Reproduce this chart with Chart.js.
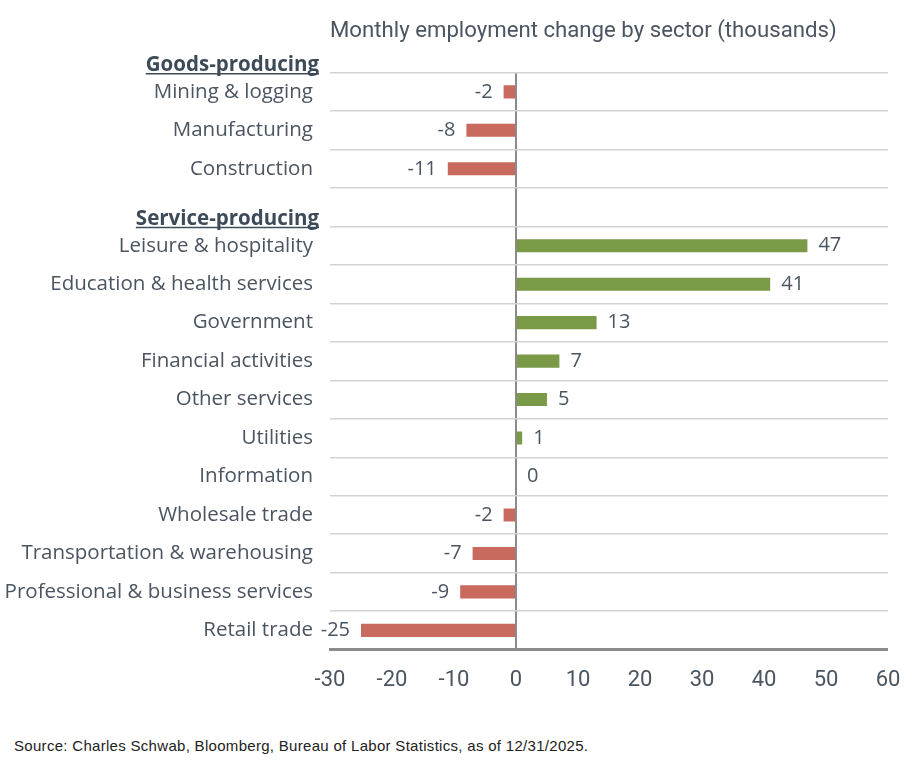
<!DOCTYPE html>
<html><head><meta charset="utf-8">
<script src="https://cdn.jsdelivr.net/npm/chart.js@4"></script>
<style>
html,body{margin:0;padding:0;background:#fff;width:912px;height:765px;overflow:hidden;}
#wrap{position:absolute;left:0;top:0;width:912px;height:703px;}
#source{position:absolute;left:14px;top:737px;font-family:"Liberation Sans",Arial,sans-serif;font-size:15px;letter-spacing:0.3px;color:#222;white-space:nowrap;}
</style></head><body>
<div id="wrap"><canvas id="c"></canvas></div>
<div id="source">Source: Charles Schwab, Bloomberg, Bureau of Labor Statistics, as of 12/31/2025.</div>
<script>
const categories = ['Mining & logging','Manufacturing','Construction','','Leisure & hospitality','Education & health services','Government','Financial activities','Other services','Utilities','Information','Wholesale trade','Transportation & warehousing','Professional & business services','Retail trade'];
const values = [-2,-8,-11,null,47,41,13,7,5,1,0,-2,-7,-9,-25];
const groupHeaders = ['Goods-producing','Service-producing'];
const groupStartIndex = [0,4];
const xTickValues = [-30,-20,-10,0,10,20,30,40,50,60];
const titleText = 'Monthly employment change by sector (thousands)';

const TEXT = '#4a5561';
const POS = '#7b9a48';
const NEG = '#c96a5f';

const headerPlugin = {
  id:'headers',
  afterDraw(chart){
    const ctx = chart.ctx, y = chart.scales.y, area = chart.chartArea;
    const row = y.getPixelForValue(1) - y.getPixelForValue(0);
    ctx.save();
    ctx.font = 'bold 20.5px "Open Sans"';
    ctx.fillStyle = '#3d4a57';
    ctx.strokeStyle = '#3d4a57';
    ctx.textAlign = 'right';
    ctx.textBaseline = 'alphabetic';
    groupHeaders.forEach((h,i)=>{
      const boundary = y.getPixelForValue(groupStartIndex[i]) - row/2;
      const bx = area.left - 11;
      const by = boundary - 1.5;
      ctx.fillText(h, bx, by);
      const w = ctx.measureText(h).width;
      ctx.lineWidth = 1.5;
      ctx.beginPath();
      ctx.moveTo(bx - w, by + 2.5);
      ctx.lineTo(bx, by + 2.5);
      ctx.stroke();
    });
    ctx.restore();
  }
};

const labelPlugin = {
  id:'valueLabels',
  afterDatasetsDraw(chart){
    const ctx = chart.ctx;
    const meta = chart.getDatasetMeta(0);
    ctx.save();
    ctx.font = '20px "Open Sans"';
    ctx.fillStyle = TEXT;
    ctx.textBaseline = 'middle';
    meta.data.forEach((el,i)=>{
      const v = values[i];
      if (v === null || v === undefined) return;
      if (v >= 0){ ctx.textAlign='left'; ctx.fillText(String(v), el.x + 11, el.y); }
      else { ctx.textAlign='right'; ctx.fillText(String(v), el.x - 11, el.y); }
    });
    ctx.restore();
  }
};

new Chart(document.getElementById('c'), {
  type:'bar',
  data:{
    labels: categories,
    datasets:[{
      data: values,
      backgroundColor: values.map(v => v >= 0 ? POS : NEG),
      barPercentage: 0.34,
      categoryPercentage: 1.0,
      borderWidth: 0
    }]
  },
  options:{
    indexAxis:'y',
    responsive:true,
    maintainAspectRatio:false,
    animation:false,
    layout:{padding:{left:0,right:24,top:0,bottom:9}},
    plugins:{
      legend:{display:false},
      tooltip:{enabled:false},
      title:{
        display:true, text:titleText, align:'start', fullSize:false,
        color:TEXT, font:{family:'Roboto', size:22.2, weight:'normal'},
        padding:{top:18,bottom:28}
      }
    },
    scales:{
      x:{
        min:-30, max:60,
        afterBuildTicks(scale){ scale.ticks = xTickValues.map(v=>({value:v})); },
        ticks:{color:TEXT, font:{family:'Roboto', size:22}, padding:0, maxRotation:0},
        grid:{
          drawTicks:true, tickLength:18, tickColor:'rgba(0,0,0,0)',
          color: c => (c.tick && c.tick.value === 0) ? '#8a8a8a' : 'rgba(0,0,0,0)',
          lineWidth: c => (c.tick && c.tick.value === 0) ? 2 : 0
        },
        border:{display:true, color:'#8a8a8a', width:3}
      },
      y:{
        afterFit(scale){ scale.width = 330; },
        ticks:{color:TEXT, font:{family:'Open Sans', size:20.5}, padding:17, autoSkip:false},
        grid:{color:'#d3d3d3', lineWidth:1.5, drawTicks:false, offset:true},
        border:{display:false}
      }
    }
  },
  plugins:[headerPlugin, labelPlugin]
});
</script>
</body></html>
